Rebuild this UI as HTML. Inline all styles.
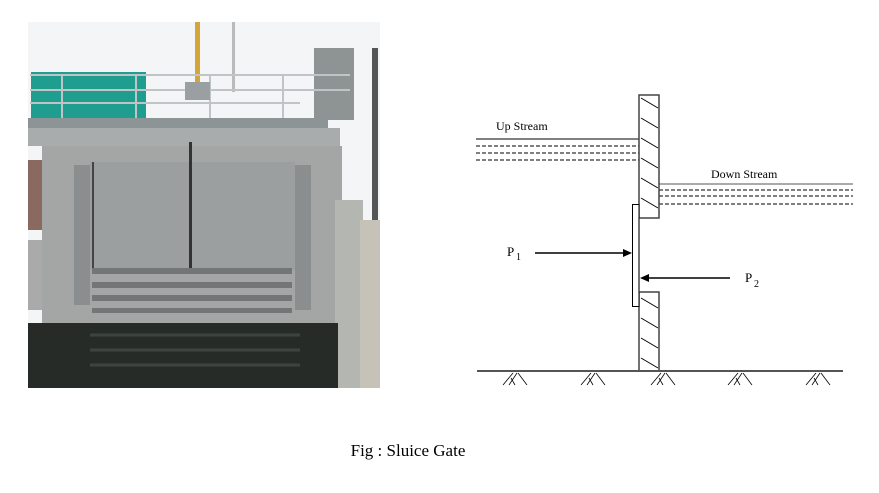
<!DOCTYPE html>
<html><head><style>
html,body{margin:0;padding:0;background:#fff;width:879px;height:493px;overflow:hidden}
</style></head><body>
<svg width="879" height="493" viewBox="0 0 879 493" xmlns="http://www.w3.org/2000/svg" font-family="Liberation Serif, serif">
<defs>
<pattern id="h" width="20" height="20" patternUnits="userSpaceOnUse" patternTransform="translate(639,95)">
<line x1="2" y1="3" x2="19" y2="13" stroke="#000" stroke-width="1"/>
</pattern>
<g id="gm" stroke="#000" stroke-width="0.8"><line x1="-12" y1="385" x2="-2" y2="373"/><line x1="-6" y1="385" x2="2" y2="373"/><line x1="0" y1="385" x2="-4" y2="378"/><line x1="3" y1="373" x2="12" y2="385"/></g>
</defs>
<!-- photo -->
<rect x="28" y="22" width="352" height="366" fill="#f4f5f6"/>
<rect x="28" y="160" width="20" height="70" fill="#8a6a60"/>
<rect x="31" y="72" width="115" height="48" fill="#1f9e8f"/>
<rect x="195" y="22" width="5" height="60" fill="#d4a63a"/>
<rect x="232" y="22" width="3" height="70" fill="#bbb"/>
<rect x="314" y="48" width="40" height="72" fill="#8e9494"/>
<rect x="372" y="48" width="6" height="180" fill="#555"/>
<g stroke="#c0c4c6" stroke-width="2" fill="none">
<line x1="30" y1="75" x2="350" y2="75"/><line x1="30" y1="90" x2="350" y2="90"/><line x1="30" y1="103" x2="300" y2="103"/>
<line x1="62" y1="75" x2="62" y2="122"/><line x1="136" y1="75" x2="136" y2="122"/><line x1="210" y1="75" x2="210" y2="122"/><line x1="283" y1="75" x2="283" y2="122"/>
</g>
<rect x="185" y="82" width="25" height="18" fill="#9aa0a2"/>
<rect x="28" y="118" width="300" height="10" fill="#8d9496"/>
<rect x="28" y="128" width="312" height="18" fill="#a8acac"/>
<rect x="42" y="146" width="300" height="180" fill="#a3a6a5"/>
<rect x="90" y="162" width="205" height="108" fill="#9c9f9f"/>
<rect x="92" y="162" width="2" height="108" fill="#444"/>
<rect x="189" y="142" width="3" height="130" fill="#333"/>
<rect x="28" y="240" width="14" height="70" fill="#aaa"/>
<g fill="#727676">
<rect x="92" y="268" width="200" height="6"/><rect x="92" y="282" width="200" height="6"/><rect x="92" y="295" width="200" height="6"/><rect x="92" y="308" width="200" height="5"/>
</g>
<rect x="74" y="165" width="16" height="140" fill="#8a8e8e"/>
<rect x="295" y="165" width="16" height="145" fill="#8a8e8e"/>
<rect x="335" y="200" width="28" height="188" fill="#b4b6b2"/>
<rect x="360" y="220" width="20" height="168" fill="#c7c2b8"/>
<rect x="28" y="323" width="310" height="65" fill="#262b28"/>
<g stroke="#3d4440" stroke-width="3"><line x1="90" y1="335" x2="300" y2="335"/><line x1="90" y1="350" x2="300" y2="350"/><line x1="90" y1="365" x2="300" y2="365"/></g>

<!-- diagram -->
<line x1="476" y1="139" x2="639" y2="139" stroke="#000"/>
<g stroke="#000" stroke-dasharray="4,2">
<line x1="476" y1="146" x2="639" y2="146"/><line x1="476" y1="153" x2="639" y2="153"/><line x1="476" y1="160" x2="639" y2="160"/>
<line x1="659" y1="190" x2="853" y2="190"/><line x1="659" y1="196" x2="853" y2="196"/><line x1="659" y1="204" x2="853" y2="204"/>
</g>
<line x1="659" y1="184" x2="853" y2="184" stroke="#555"/>
<rect x="639" y="95" width="20" height="123" fill="url(#h)" stroke="#444" stroke-width="1.5"/>
<rect x="639" y="292" width="20" height="79" fill="url(#h)" stroke="#444" stroke-width="1.5"/>
<rect x="632.5" y="204.5" width="6.5" height="102" fill="#fff" stroke="#000"/>
<line x1="639" y1="218" x2="639" y2="292" stroke="#444" stroke-width="1.5"/>
<line x1="477" y1="371" x2="843" y2="371" stroke="#555" stroke-width="2"/>
<use href="#gm" x="515"/><use href="#gm" x="593"/><use href="#gm" x="663"/><use href="#gm" x="740"/><use href="#gm" x="818"/>
<line x1="535" y1="253" x2="625" y2="253" stroke="#000" stroke-width="1.5"/>
<polygon points="632,253 623,249 623,257" fill="#000"/>
<line x1="648" y1="278" x2="730" y2="278" stroke="#000" stroke-width="1.5"/>
<polygon points="640,278 649,274 649,282" fill="#000"/>
<text x="496" y="130" font-size="12">Up Stream</text>
<text x="711" y="178" font-size="12">Down Stream</text>
<text x="507" y="256" font-size="13">P</text><text x="516" y="260" font-size="10">1</text>
<text x="745" y="282" font-size="13">P</text><text x="754" y="287" font-size="10">2</text>
<text x="408" y="456" font-size="17" text-anchor="middle">Fig : Sluice Gate</text>
</svg>
</body></html>
